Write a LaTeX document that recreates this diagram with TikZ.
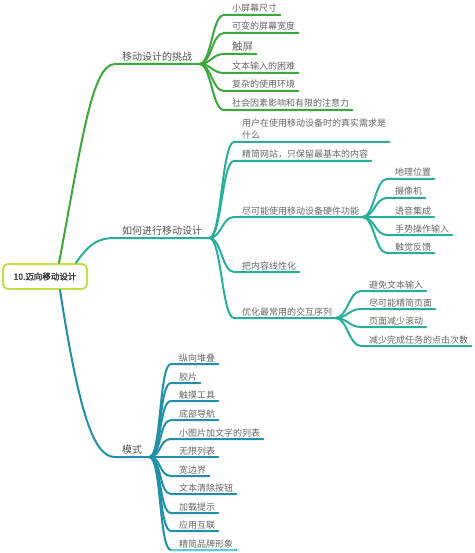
\documentclass[tikz,border=0pt]{standalone}
\usepackage{fontspec}
\setmainfont{Noto Sans CJK SC}[AutoFakeBold=1.5]
\usepackage{tikz}
\usetikzlibrary{positioning}

\definecolor{greenbr}{HTML}{3CA83C}
\definecolor{tealbr}{HTML}{2AAE9C}
\definecolor{bluebr}{HTML}{2090A8}
\definecolor{rootc}{HTML}{C8DC50}
\definecolor{leaftxt}{HTML}{666666}
\definecolor{topictxt}{HTML}{505050}

\begin{document}
\begin{tikzpicture}[
    x=1pt, y=-1pt,
    root/.style={draw=rootc, line width=2pt, rounded corners=5pt, fill=white,
      minimum width=84pt, minimum height=25pt, inner sep=0pt, text=black!80,
      font=\bfseries\fontsize{8.5}{10}\selectfont},
    topic/.style={anchor=south west, text=topictxt, inner xsep=7pt, inner ysep=0pt,
      text depth=3.5pt, font=\fontsize{10}{12}\selectfont},
    leaf/.style={anchor=south west, text=leaftxt, inner xsep=3pt, inner ysep=0pt,
      text depth=2.8pt, font=\fontsize{9}{12}\selectfont},
    gbr/.style={draw=greenbr, line width=2pt, line cap=round},
    tbr/.style={draw=tealbr, line width=2pt, line cap=round},
    bbr/.style={draw=bluebr, line width=2pt, line cap=round}
  ]
  \useasboundingbox (0,0) rectangle (474,553);

  \node[root] (root) at (45,276.5) {10.迈向移动设计};

  \node[topic] (challenge) at (115,64) {移动设计的挑战};
  \node[topic] (howto) at (115,238) {如何进行移动设计};
  \node[topic] (pattern) at (115,457) {模式};

  \draw[gbr] ([xshift=14pt]root.north) .. controls (82,140) and (92,64) .. (challenge.south west) -- (challenge.south east);
  \draw[tbr] ([xshift=31pt]root.north) .. controls (90,242) and (100,238) .. (howto.south west) -- (howto.south east);
  \draw[bbr] ([xshift=15pt]root.south) .. controls (80,420) and (95,457) .. (pattern.south west) -- (pattern.south east);

  \foreach \y/\t/\n in {15/小屏幕尺寸/g1, 33/可变的屏幕宽度/g2, 54/{\fontsize{10.5}{12}\selectfont 触屏}/g3,
      73/文本输入的困难/g4, 91/复杂的使用环境/g5, 110/社会因素影响和有限的注意力/g6} {
    \node[leaf] (\n) at (229,\y) {\t};
    \draw[gbr] (challenge.south east) .. controls +(12,0) and +(-12,0) .. ([xshift=-5pt]\n.south west) -- (\n.south east);
  }

  \node[leaf, align=left, text depth=, inner ysep=2.5pt] (t1) at (239,142) {用户在使用移动设备时的真实需求是\\什么};
  \foreach \y/\t/\n in {161/精简网站，只保留最基本的内容/t2, 217/尽可能使用移动设备硬件功能/hw,
      272/把内容线性化/t4, 318/优化最常用的交互序列/ia} {
    \node[leaf] (\n) at (239,\y) {\t};
  }
  \foreach \n in {t1,t2,hw,t4,ia} {
    \draw[tbr] (howto.south east) .. controls +(12,0) and +(-12,0) .. ([xshift=-5pt]\n.south west) -- (\n.south east);
  }

  \foreach \y/\t/\n in {179/地理位置/h1, 198/摄像机/h2, 217/语音集成/h3, 235/手势操作输入/h4, 253/触觉反馈/h5} {
    \node[leaf] (\n) at (392,\y) {\t};
    \draw[tbr] (hw.south east) .. controls +(12,0) and +(-12,0) .. ([xshift=-5pt]\n.south west) -- (\n.south east);
  }

  \foreach \y/\t/\n in {291/避免文本输入/i1, 309/尽可能精简页面/i2, 327/页面减少滚动/i3, 346/减少完成任务的点击次数/i4} {
    \node[leaf] (\n) at (366,\y) {\t};
    \draw[tbr] (ia.south east) .. controls +(12,0) and +(-12,0) .. ([xshift=-5pt]\n.south west) -- (\n.south east);
  }

  \foreach \y/\t/\n in {364/纵向堆叠/p1, 383/胶片/p2, 401/触摸工具/p3, 420/底部导航/p4, 439/小图片加文字的列表/p5,
      457/无限列表/p6, 476/宽边界/p7, 494/文本清除按钮/p8, 513/加载提示/p9, 531/应用互联/p10, 550/精简品牌形象/p11} {
    \node[leaf] (\n) at (176,\y) {\t};
    \draw[bbr] (pattern.south east) .. controls +(12,0) and +(-12,0) .. ([xshift=-5pt]\n.south west) -- (\n.south east);
  }
  \draw[draw=bluebr!60!cyan!70, line width=2.5pt] ([xshift=-5pt]p11.south west) -- (p11.south east);
\end{tikzpicture}
\end{document}
